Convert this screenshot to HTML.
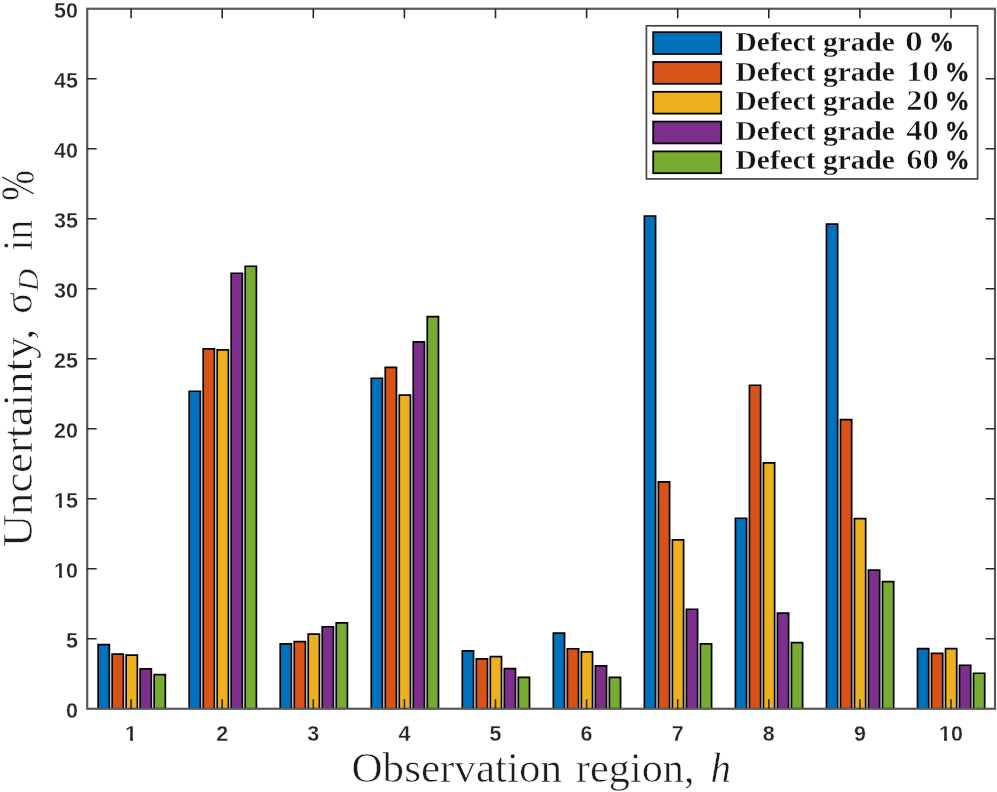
<!DOCTYPE html>
<html lang="en"><head><meta charset="utf-8"><title>Uncertainty per observation region</title>
<style>html,body{margin:0;padding:0;background:#fff}svg{display:block}.tk{font-family:"Liberation Sans",Arial,Helvetica,sans-serif;font-weight:bold;font-size:21.5px;fill:#262626;stroke:#fff;stroke-width:0.3px}.lb{font-family:"Liberation Serif","Times New Roman",serif;font-size:41.5px;fill:#1c1c1c;stroke:#fff;stroke-width:0.55px}.lg{font-family:"Liberation Serif","Times New Roman",serif;font-weight:bold;font-size:27.5px;fill:#141414;stroke:#fff;stroke-width:0.3px}</style></head><body>
<svg width="997" height="792" viewBox="0 0 997 792">
<rect x="0" y="0" width="997" height="792" fill="#fff"/>
<g stroke="#000" stroke-width="1.7">
<path d="M98.15 708.75V644.67h11.20V708.75" fill="#0072BD"/>
<path d="M112.15 708.75V654.19h11.20V708.75" fill="#D95319"/>
<path d="M126.15 708.75V655.03h11.20V708.75" fill="#EDB120"/>
<path d="M140.15 708.75V668.89h11.20V708.75" fill="#7E2F8E"/>
<path d="M154.15 708.75V674.63h11.20V708.75" fill="#77AC30"/>
<path d="M189.19 708.75V391.27h11.20V708.75" fill="#0072BD"/>
<path d="M203.19 708.75V348.85h11.20V708.75" fill="#D95319"/>
<path d="M217.19 708.75V349.97h11.20V708.75" fill="#EDB120"/>
<path d="M231.19 708.75V273.25h11.20V708.75" fill="#7E2F8E"/>
<path d="M245.19 708.75V266.25h11.20V708.75" fill="#77AC30"/>
<path d="M280.23 708.75V643.97h11.20V708.75" fill="#0072BD"/>
<path d="M294.23 708.75V641.59h11.20V708.75" fill="#D95319"/>
<path d="M308.23 708.75V634.03h11.20V708.75" fill="#EDB120"/>
<path d="M322.23 708.75V626.75h11.20V708.75" fill="#7E2F8E"/>
<path d="M336.23 708.75V622.83h11.20V708.75" fill="#77AC30"/>
<path d="M371.27 708.75V378.25h11.20V708.75" fill="#0072BD"/>
<path d="M385.27 708.75V367.33h11.20V708.75" fill="#D95319"/>
<path d="M399.27 708.75V395.05h11.20V708.75" fill="#EDB120"/>
<path d="M413.27 708.75V341.85h11.20V708.75" fill="#7E2F8E"/>
<path d="M427.27 708.75V316.65h11.20V708.75" fill="#77AC30"/>
<path d="M462.31 708.75V650.83h11.20V708.75" fill="#0072BD"/>
<path d="M476.31 708.75V658.95h11.20V708.75" fill="#D95319"/>
<path d="M490.31 708.75V656.57h11.20V708.75" fill="#EDB120"/>
<path d="M504.31 708.75V668.61h11.20V708.75" fill="#7E2F8E"/>
<path d="M518.31 708.75V677.29h11.20V708.75" fill="#77AC30"/>
<path d="M553.35 708.75V633.05h11.20V708.75" fill="#0072BD"/>
<path d="M567.35 708.75V648.73h11.20V708.75" fill="#D95319"/>
<path d="M581.35 708.75V651.81h11.20V708.75" fill="#EDB120"/>
<path d="M595.35 708.75V665.95h11.20V708.75" fill="#7E2F8E"/>
<path d="M609.35 708.75V677.29h11.20V708.75" fill="#77AC30"/>
<path d="M644.39 708.75V215.99h11.20V708.75" fill="#0072BD"/>
<path d="M658.39 708.75V481.85h11.20V708.75" fill="#D95319"/>
<path d="M672.39 708.75V539.95h11.20V708.75" fill="#EDB120"/>
<path d="M686.39 708.75V609.25h11.20V708.75" fill="#7E2F8E"/>
<path d="M700.39 708.75V643.83h11.20V708.75" fill="#77AC30"/>
<path d="M735.43 708.75V518.25h11.20V708.75" fill="#0072BD"/>
<path d="M749.43 708.75V385.25h11.20V708.75" fill="#D95319"/>
<path d="M763.43 708.75V462.81h11.20V708.75" fill="#EDB120"/>
<path d="M777.43 708.75V613.03h11.20V708.75" fill="#7E2F8E"/>
<path d="M791.43 708.75V642.57h11.20V708.75" fill="#77AC30"/>
<path d="M826.47 708.75V224.11h11.20V708.75" fill="#0072BD"/>
<path d="M840.47 708.75V419.55h11.20V708.75" fill="#D95319"/>
<path d="M854.47 708.75V518.53h11.20V708.75" fill="#EDB120"/>
<path d="M868.47 708.75V570.05h11.20V708.75" fill="#7E2F8E"/>
<path d="M882.47 708.75V581.53h11.20V708.75" fill="#77AC30"/>
<path d="M917.51 708.75V648.59h11.20V708.75" fill="#0072BD"/>
<path d="M931.51 708.75V653.35h11.20V708.75" fill="#D95319"/>
<path d="M945.51 708.75V648.59h11.20V708.75" fill="#EDB120"/>
<path d="M959.51 708.75V665.25h11.20V708.75" fill="#7E2F8E"/>
<path d="M973.51 708.75V673.23h11.20V708.75" fill="#77AC30"/>
</g>
<rect x="87.20" y="8.75" width="907.80" height="700.00" fill="none" stroke="#595959" stroke-width="2.2"/>
<g stroke="#2a2a2a" stroke-width="1.6" fill="none" stroke-linecap="butt">
<path d="M131.10 708.75v-9.5 M131.10 8.75v9.5"/>
<path d="M222.20 708.75v-9.5 M222.20 8.75v9.5"/>
<path d="M313.30 708.75v-9.5 M313.30 8.75v9.5"/>
<path d="M404.40 708.75v-9.5 M404.40 8.75v9.5"/>
<path d="M495.50 708.75v-9.5 M495.50 8.75v9.5"/>
<path d="M586.60 708.75v-9.5 M586.60 8.75v9.5"/>
<path d="M677.70 708.75v-9.5 M677.70 8.75v9.5"/>
<path d="M768.80 708.75v-9.5 M768.80 8.75v9.5"/>
<path d="M859.90 708.75v-9.5 M859.90 8.75v9.5"/>
<path d="M951.00 708.75v-9.5 M951.00 8.75v9.5"/>
<path d="M87.20 638.75h9.5 M995.00 638.75h-9.5"/>
<path d="M87.20 568.75h9.5 M995.00 568.75h-9.5"/>
<path d="M87.20 498.75h9.5 M995.00 498.75h-9.5"/>
<path d="M87.20 428.75h9.5 M995.00 428.75h-9.5"/>
<path d="M87.20 358.75h9.5 M995.00 358.75h-9.5"/>
<path d="M87.20 288.75h9.5 M995.00 288.75h-9.5"/>
<path d="M87.20 218.75h9.5 M995.00 218.75h-9.5"/>
<path d="M87.20 148.75h9.5 M995.00 148.75h-9.5"/>
<path d="M87.20 78.75h9.5 M995.00 78.75h-9.5"/>
</g>
<g class="tk" text-anchor="end">
<text x="78.0" y="717.85">0</text>
<text x="78.0" y="647.85">5</text>
<text x="78.0" y="577.85">10</text>
<text x="78.0" y="507.85">15</text>
<text x="78.0" y="437.85">20</text>
<text x="78.0" y="367.85">25</text>
<text x="78.0" y="297.85">30</text>
<text x="78.0" y="227.85">35</text>
<text x="78.0" y="157.85">40</text>
<text x="78.0" y="87.85">45</text>
<text x="78.0" y="17.85">50</text>
</g>
<g class="tk" text-anchor="middle">
<text x="131.10" y="740.8">1</text>
<text x="222.20" y="740.8">2</text>
<text x="313.30" y="740.8">3</text>
<text x="404.40" y="740.8">4</text>
<text x="495.50" y="740.8">5</text>
<text x="586.60" y="740.8">6</text>
<text x="677.70" y="740.8">7</text>
<text x="768.80" y="740.8">8</text>
<text x="859.90" y="740.8">9</text>
<text x="951.00" y="740.8">10</text>
</g>
<g fill="#fff">
<rect x="125.0" y="737.4" width="5" height="4"/><rect x="133.0" y="737.4" width="4.4" height="4"/>
<rect x="939.0" y="737.4" width="5" height="4"/><rect x="947.0" y="737.4" width="4.4" height="4"/>
<rect x="54.0" y="574.4" width="5" height="4"/><rect x="62.0" y="574.4" width="4.4" height="4"/>
<rect x="54.0" y="504.4" width="5" height="4"/><rect x="62.0" y="504.4" width="4.4" height="4"/>
</g>
<text class="lb" y="782.00"><tspan x="351.50" textLength="210.50" lengthAdjust="spacingAndGlyphs">Observation</tspan> <tspan x="576.00" textLength="118.50" lengthAdjust="spacingAndGlyphs">region,</tspan> <tspan x="710.50" textLength="20.50" lengthAdjust="spacingAndGlyphs" font-style="italic">h</tspan></text>
<text class="lb" transform="translate(32.30 546.60) rotate(-90)" y="0"><tspan x="-0.50" textLength="218.50" lengthAdjust="spacingAndGlyphs">Uncertainty,</tspan> <tspan x="232.80" textLength="21.50" lengthAdjust="spacingAndGlyphs" y="0">σ</tspan><tspan x="255.30" textLength="22.50" lengthAdjust="spacingAndGlyphs" y="5.7" font-style="italic" style="font-size:29.5px">D</tspan> <tspan x="295.80" textLength="31.00" lengthAdjust="spacingAndGlyphs" y="0">in</tspan> <tspan x="345.80" textLength="30.50" lengthAdjust="spacingAndGlyphs" y="1.5" style="font-size:49px">%</tspan></text>
<rect x="646.40" y="25.80" width="331.20" height="153.10" fill="#fff" stroke="#444" stroke-width="1.7"/>
<rect x="653.2" y="32.20" width="68" height="21.8" fill="#0072BD" stroke="#000" stroke-width="1.8"/>
<text class="lg" y="50.90"><tspan x="735.60" textLength="159.20" lengthAdjust="spacingAndGlyphs">Defect grade</tspan> <tspan x="905.00" textLength="17.80" lengthAdjust="spacingAndGlyphs" style="font-size:28.5px;stroke-width:0.6px">0</tspan> <tspan x="929.30" textLength="24.80" lengthAdjust="spacingAndGlyphs" style="font-size:28px;stroke:#141414;stroke-width:0.4px">%</tspan></text>
<rect x="653.2" y="62.00" width="68" height="21.8" fill="#D95319" stroke="#000" stroke-width="1.8"/>
<text class="lg" y="80.50"><tspan x="735.60" textLength="159.20" lengthAdjust="spacingAndGlyphs">Defect grade</tspan> <tspan x="906.30" textLength="32.50" lengthAdjust="spacingAndGlyphs" style="font-size:28.5px;stroke-width:0.6px">10</tspan> <tspan x="944.70" textLength="24.80" lengthAdjust="spacingAndGlyphs" style="font-size:28px;stroke:#141414;stroke-width:0.4px">%</tspan></text>
<rect x="653.2" y="91.80" width="68" height="21.8" fill="#EDB120" stroke="#000" stroke-width="1.8"/>
<text class="lg" y="110.10"><tspan x="735.60" textLength="159.20" lengthAdjust="spacingAndGlyphs">Defect grade</tspan> <tspan x="906.30" textLength="32.50" lengthAdjust="spacingAndGlyphs" style="font-size:28.5px;stroke-width:0.6px">20</tspan> <tspan x="944.70" textLength="24.80" lengthAdjust="spacingAndGlyphs" style="font-size:28px;stroke:#141414;stroke-width:0.4px">%</tspan></text>
<rect x="653.2" y="121.60" width="68" height="21.8" fill="#7E2F8E" stroke="#000" stroke-width="1.8"/>
<text class="lg" y="139.70"><tspan x="735.60" textLength="159.20" lengthAdjust="spacingAndGlyphs">Defect grade</tspan> <tspan x="906.30" textLength="32.50" lengthAdjust="spacingAndGlyphs" style="font-size:28.5px;stroke-width:0.6px">40</tspan> <tspan x="944.70" textLength="24.80" lengthAdjust="spacingAndGlyphs" style="font-size:28px;stroke:#141414;stroke-width:0.4px">%</tspan></text>
<rect x="653.2" y="151.40" width="68" height="21.8" fill="#77AC30" stroke="#000" stroke-width="1.8"/>
<text class="lg" y="169.30"><tspan x="735.60" textLength="159.20" lengthAdjust="spacingAndGlyphs">Defect grade</tspan> <tspan x="906.30" textLength="32.50" lengthAdjust="spacingAndGlyphs" style="font-size:28.5px;stroke-width:0.6px">60</tspan> <tspan x="944.70" textLength="24.80" lengthAdjust="spacingAndGlyphs" style="font-size:28px;stroke:#141414;stroke-width:0.4px">%</tspan></text>
</svg></body></html>
